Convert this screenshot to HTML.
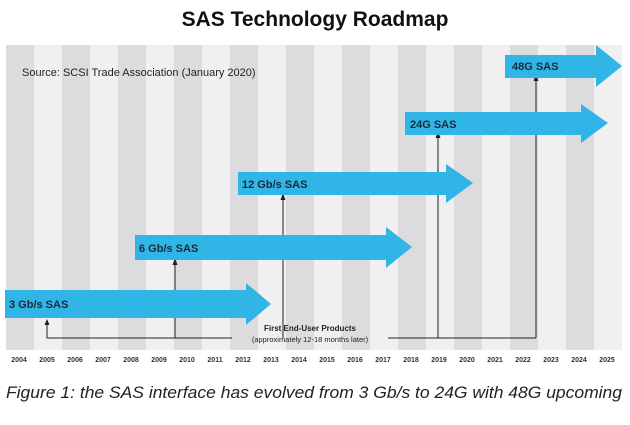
<!DOCTYPE html>
<html><head><meta charset="utf-8"><style>
body{margin:0;background:#fff;width:630px;height:420px;overflow:hidden;font-family:"Liberation Sans",sans-serif}
</style></head><body>
<svg width="630" height="420" xmlns="http://www.w3.org/2000/svg" font-family="Liberation Sans, sans-serif">
<text x="315" y="26" text-anchor="middle" font-size="21" font-weight="bold" fill="#111">SAS Technology Roadmap</text>
<rect x="6" y="45" width="616" height="305" fill="#f0f0f1"/>
<g fill="#dcdcde">
<rect x="6" y="45" width="28" height="305"/><rect x="62" y="45" width="28" height="305"/><rect x="118" y="45" width="28" height="305"/><rect x="174" y="45" width="28" height="305"/><rect x="230" y="45" width="28" height="305"/><rect x="286" y="45" width="28" height="305"/><rect x="342" y="45" width="28" height="305"/><rect x="398" y="45" width="28" height="305"/><rect x="454" y="45" width="28" height="305"/><rect x="510" y="45" width="28" height="305"/><rect x="566" y="45" width="28" height="305"/>
</g>
<text x="22" y="76" font-size="11" fill="#222">Source: SCSI Trade Association (January 2020)</text>
<g stroke="#222" stroke-width="1" fill="none">
<line x1="175" y1="262" x2="175" y2="338"/>
<line x1="283" y1="197" x2="283" y2="338"/>
<line x1="438" y1="135" x2="438" y2="338"/>
<line x1="536" y1="78" x2="536" y2="338"/>
<polyline points="47,324 47,338 232,338"/>
<line x1="388" y1="338" x2="536" y2="338"/>
</g>
<g fill="#222">
<polygon points="47,319 44.5,325 49.5,325"/>
<polygon points="175,258 172.5,265 177.5,265"/>
<polygon points="283,193 280.5,200 285.5,200"/>
<polygon points="438,131 435.5,138 440.5,138"/>
<polygon points="536,74 533.5,81 538.5,81"/>
</g>
<g fill="#30b5e6">
<polygon points="5,290 246,290 246,283 271,304 246,325 246,318 5,318"/>
<polygon points="135,235 386,235 386,227 412,247 386,268 386,260 135,260"/>
<polygon points="238,172 446,172 446,164 473,183 446,203 446,195 238,195"/>
<polygon points="405,112 581,112 581,104 608,123 581,143 581,135 405,135"/>
<polygon points="505,55 596,55 596,45 622,66 596,87 596,78 505,78"/>
</g>
<g font-size="11" font-weight="bold" fill="#1a2a3a">
<text x="9" y="308">3 Gb/s SAS</text>
<text x="139" y="252">6 Gb/s SAS</text>
<text x="242" y="188">12 Gb/s SAS</text>
<text x="410" y="128">24G SAS</text>
<text x="512" y="70">48G SAS</text>
</g>
<text x="310" y="331" text-anchor="middle" font-size="8" font-weight="bold" fill="#222">First End-User Products</text>
<text x="310" y="342" text-anchor="middle" font-size="7.5" fill="#222">(approximately 12-18 months later)</text>
<g font-size="7" font-weight="bold" fill="#333" text-anchor="middle">
<text x="19" y="362">2004</text><text x="47" y="362">2005</text><text x="75" y="362">2006</text><text x="103" y="362">2007</text><text x="131" y="362">2008</text><text x="159" y="362">2009</text><text x="187" y="362">2010</text><text x="215" y="362">2011</text><text x="243" y="362">2012</text><text x="271" y="362">2013</text><text x="299" y="362">2014</text><text x="327" y="362">2015</text><text x="355" y="362">2016</text><text x="383" y="362">2017</text><text x="411" y="362">2018</text><text x="439" y="362">2019</text><text x="467" y="362">2020</text><text x="495" y="362">2021</text><text x="523" y="362">2022</text><text x="551" y="362">2023</text><text x="579" y="362">2024</text><text x="607" y="362">2025</text>
</g>
<text x="6" y="398" font-size="16.5" font-style="italic" fill="#222" textLength="616" lengthAdjust="spacingAndGlyphs">Figure 1: the SAS interface has evolved from 3 Gb/s to 24G with 48G upcoming</text>
</svg>
</body></html>
